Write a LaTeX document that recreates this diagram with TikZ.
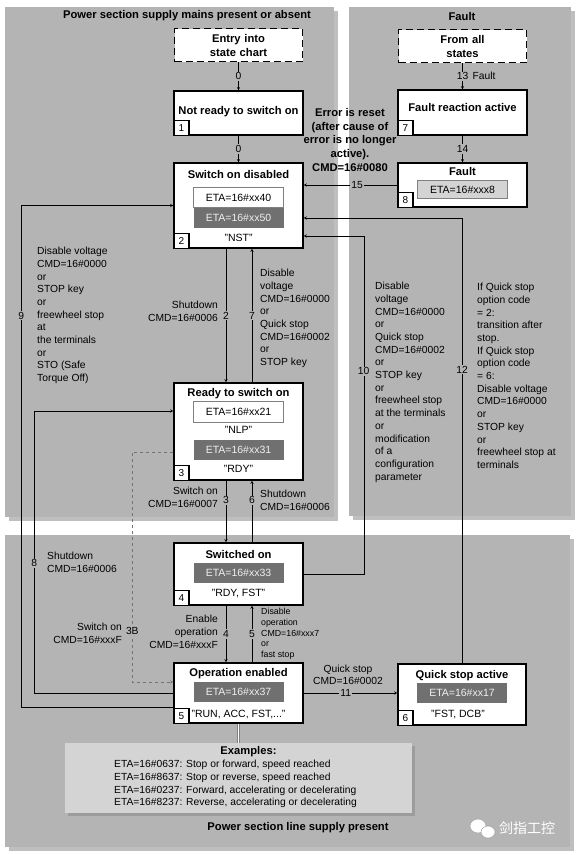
\documentclass[tikz,border=0pt]{standalone}
\usepackage{fontspec}
\setmainfont{Liberation Sans}
\newfontfamily\cjkfont{Noto Sans CJK SC}
\usetikzlibrary{arrows, shadows}

\definecolor{panelgray}{RGB}{180,180,180}
\definecolor{etagray}{RGB}{112,112,112}
\definecolor{boxgray}{RGB}{212,212,212}

\tikzstyle{panel} = [fill=panelgray, drop shadow={shadow xshift=4pt, shadow yshift=-4pt, opacity=0.5}]
\tikzstyle{state} = [rectangle, minimum width=129pt, draw=black, line width=1.4pt, fill=white]
\tikzstyle{entry} = [rectangle, minimum width=128pt, minimum height=33pt, text width=120pt, align=center,
draw=black, line width=1.4pt, dash pattern=on 7pt off 4pt, fill=white, font=\fontsize{11.2}{14}\selectfont\bfseries]
\tikzstyle{title} = [inner sep=0pt, text height=8pt, text depth=0pt, font=\fontsize{11.2}{13.5}\selectfont\bfseries]
\tikzstyle{status} = [inner sep=0pt, text height=7.5pt, text depth=0pt, font=\fontsize{10.5}{12}\selectfont]
\tikzstyle{etaWhite} = [rectangle, anchor=north, minimum width=90pt, minimum height=20.5pt, draw=gray, line width=0.4pt,
fill=white, inner sep=0pt, text height=7.5pt, text depth=0pt, font=\fontsize{10.5}{12}\selectfont]
\tikzstyle{etaDark} = [etaWhite, draw=none, fill=etagray, text=white!88!gray]
\tikzstyle{etaLight} = [etaWhite, fill=boxgray]
\tikzstyle{numbox} = [rectangle, anchor=south west, minimum size=15pt, draw=black, line width=1.2pt, fill=white,
inner sep=0pt, text height=7pt, text depth=0pt, font=\fontsize{10}{12}\selectfont]
\tikzstyle{num} = [fill=panelgray, inner sep=1pt, font=\fontsize{10.3}{12}\selectfont]
\tikzstyle{cond} = [inner sep=0pt, font=\fontsize{10.3}{12.7}\selectfont]
\tikzstyle{condSmall} = [inner sep=0pt, font=\fontsize{8.8}{10.8}\selectfont]
\tikzstyle{heading} = [inner sep=0pt, font=\fontsize{11.2}{13.7}\selectfont\bfseries]
\tikzstyle{exampleBox} = [rectangle, fill=boxgray, minimum width=347pt, minimum height=70pt,
drop shadow={shadow xshift=3pt, shadow yshift=-3pt, opacity=0.45}]

\begin{document}
\begin{tikzpicture}[x=1pt, y=-1pt]
    \useasboundingbox (0,0) rectangle (578,855);
    \fill[white] (0,0) rectangle (578,855);
    % panels
    \path[panel] (5,7) rectangle (334,517);
    \path[panel] (349,7) rectangle (571,516);
    \path[panel] (5,535) rectangle (570,847);
    \node(mainsTitle)[heading] at (187,16) {Power section supply mains present or absent};
    \node(faultTitle)[heading] at (462,16) {Fault};
    \node(lineTitle)[heading] at (298,828) {Power section line supply present};

    % states
    \node(entryChart)[entry] at (238.5,45) {Entry into\\state chart};
    \node(notReady)[state, minimum height=44pt] at (238.5,113) {};
    \node(switchDisabled)[state, minimum height=85pt] at (238.5,205.5) {};
    \node(readySwitch)[state, minimum height=97pt] at (238.5,431.5) {};
    \node(switchedOn)[state, minimum height=62pt] at (238.5,574) {};
    \node(opEnabled)[state, minimum height=60pt] at (238.5,693) {};
    \node(quickStop)[state, minimum width=128pt, minimum height=61pt] at (462,694.5) {};
    \node(fromAll)[entry] at (462.5,46) {From all\\states};
    \node(faultReaction)[state, minimum height=45pt] at (462.5,112.5) {};
    \node(fault)[state, minimum height=44pt] at (462.5,185) {};

    \node(tNotReady)[title] at ([yshift=-20pt]notReady.north) {Not ready to switch on};
    \node(nOne)[numbox] at (notReady.south west) {1};

    \node(tDisabled)[title] at ([yshift=-12pt]switchDisabled.north) {Switch on disabled};
    \node(eta40)[etaWhite, minimum height=20pt] at ([yshift=-25pt]switchDisabled.north) {ETA=16\#xx40};
    \node(eta50)[etaDark, minimum height=20pt] at ([yshift=-45pt]switchDisabled.north) {ETA=16\#xx50};
    \node(sNST)[status] at ([yshift=-75pt]switchDisabled.north) {"NST"};
    \node(nTwo)[numbox] at (switchDisabled.south west) {2};

    \node(tReady)[title] at ([yshift=-10pt]readySwitch.north) {Ready to switch on};
    \node(eta21)[etaWhite] at ([yshift=-19pt]readySwitch.north) {ETA=16\#xx21};
    \node(sNLP)[status] at ([yshift=-47pt]readySwitch.north) {"NLP"};
    \node(eta31)[etaDark] at ([yshift=-57pt]readySwitch.north) {ETA=16\#xx31};
    \node(sRDY)[status] at ([yshift=-86pt]readySwitch.north) {"RDY"};
    \node(nThree)[numbox] at (readySwitch.south west) {3};

    \node(tSwitchedOn)[title] at ([yshift=-12pt]switchedOn.north) {Switched on};
    \node(eta33)[etaDark] at ([yshift=-20pt]switchedOn.north) {ETA=16\#xx33};
    \node(sRdyFst)[status] at ([yshift=-50pt]switchedOn.north) {"RDY, FST"};
    \node(nFour)[numbox] at (switchedOn.south west) {4};

    \node(tOpEnabled)[title] at ([yshift=-10pt]opEnabled.north) {Operation enabled};
    \node(eta37)[etaDark] at ([yshift=-19pt]opEnabled.north) {ETA=16\#xx37};
    \node(sRun)[status] at ([yshift=-51pt]opEnabled.north) {"RUN, ACC, FST,..."};
    \node(nFive)[numbox] at (opEnabled.south west) {5};

    \node(tQuickStop)[title] at ([yshift=-11pt]quickStop.north) {Quick stop active};
    \node(eta17)[etaDark, minimum height=20pt] at ([yshift=-19pt]quickStop.north) {ETA=16\#xx17};
    \node(sFstDcb)[status] at ([yshift=-50pt, xshift=-4pt]quickStop.north) {"FST, DCB"};
    \node(nSix)[numbox] at (quickStop.south west) {6};

    \node(tFaultReaction)[title] at ([yshift=-18pt]faultReaction.north) {Fault reaction active};
    \node(nSeven)[numbox] at (faultReaction.south west) {7};
    \node(tFault)[title] at ([yshift=-9pt]fault.north) {Fault};
    \node(eta8)[etaLight, minimum height=18pt] at ([yshift=-18pt]fault.north) {ETA=16\#xxx8};
    \node(nEight)[numbox] at (fault.south west) {8};

    % transitions
    \draw[->,>=stealth] (entryChart) -- node[num]{0} (notReady);
    \draw[->,>=stealth] (notReady) -- node[num]{0} (switchDisabled);
    \draw[->,>=stealth] ([xshift=-12.5pt]switchDisabled.south) -- node[num]{2} ([xshift=-12.5pt]readySwitch.north);
    \draw[->,>=stealth] ([xshift=13.5pt]readySwitch.north) -- node[num]{7} ([xshift=13.5pt]switchDisabled.south);
    \draw[->,>=stealth] ([xshift=-12.5pt]readySwitch.south) -- node[num, pos=0.32]{3} ([xshift=-12.5pt]switchedOn.north);
    \draw[->,>=stealth] ([xshift=13.5pt]switchedOn.north) -- node[num, pos=0.68]{6} ([xshift=13.5pt]readySwitch.south);
    \draw[->,>=stealth] ([xshift=-12.5pt]switchedOn.south) -- node[num]{4} ([xshift=-12.5pt]opEnabled.north);
    \draw[->,>=stealth] ([xshift=13.5pt]opEnabled.north) -- node[num]{5} ([xshift=13.5pt]switchedOn.south);
    \draw[->,>=stealth] (opEnabled.east) -- node[num, pos=0.45]{11} (opEnabled.east -| quickStop.west);
    \draw[->,>=stealth] (fromAll) -- node[num]{13} node[cond, right=10pt]{Fault} (faultReaction);
    \draw[->,>=stealth] (faultReaction) -- node[num]{14} (fault);
    \draw[->,>=stealth] (fault.west) -- node[num, pos=0.43]{15} (fault.west -| switchDisabled.east);
    \draw[->,>=stealth] (quickStop.north) |- node[num, pos=0.33]{12} ([yshift=-12.5pt]switchDisabled.east);
    \draw[->,>=stealth] (switchedOn.east) -- ++(60,0) |- node[num, pos=0.30]{10} ([yshift=-30.5pt]switchDisabled.east);
    \draw[->,>=stealth] ([yshift=-14pt]opEnabled.west) -- ++(-152,0) |- node[num, pos=0.39]{9} (switchDisabled.west);
    \draw[->,>=stealth] (opEnabled.west) -- ++(-139,0) |- node[num, pos=0.23]{8} ([yshift=20.5pt]readySwitch.west);
    \draw[->,>=stealth, dashed, black!55] ([yshift=-20.5pt]readySwitch.west) -- ++(-41,0)
    |- node[num, text=black, pos=0.39]{3B} ([yshift=11pt]opEnabled.west);

    % transition conditions
    \node(cTwo)[cond, anchor=north east, align=right] at (218,301) {Shutdown\\CMD=16\#0006};
    \node(cSeven)[cond, anchor=north west, align=left] at (260,269) {Disable\\voltage\\CMD=16\#0000\\or\\Quick stop\\CMD=16\#0002\\or\\STOP key};
    \node(cNine)[cond, anchor=north west, align=left] at (37,247) {Disable voltage\\CMD=16\#0000\\or\\STOP key\\or\\freewheel stop\\at\\the terminals\\or\\STO (Safe\\Torque Off)};
    \node(cTen)[cond, anchor=north west, align=left] at (375,282) {Disable\\voltage\\CMD=16\#0000\\or\\Quick stop\\CMD=16\#0002\\or\\STOP key\\or\\freewheel stop\\at the terminals\\or\\modification\\of a\\configuration\\parameter};
    \node(cTwelve)[cond, anchor=north west, align=left] at (477,283) {If Quick stop\\option code\\= 2:\\transition after\\stop.\\If Quick stop\\option code\\= 6:\\Disable voltage\\CMD=16\#0000\\or\\STOP key\\or\\freewheel stop at\\terminals};
    \node(cThree)[cond, anchor=north east, align=right] at (218,487) {Switch on\\CMD=16\#0007};
    \node(cSix)[cond, anchor=north west, align=left] at (260,490) {Shutdown\\CMD=16\#0006};
    \node(cEight)[cond, anchor=north west, align=left] at (47,552) {Shutdown\\CMD=16\#0006};
    \node(cThreeB)[cond, anchor=north east, align=right] at (122,623) {Switch on\\CMD=16\#xxxF};
    \node(cFour)[cond, anchor=north east, align=right] at (218,615) {Enable\\operation\\CMD=16\#xxxF};
    \node(cFive)[condSmall, anchor=north west, align=left] at (261,608) {Disable\\operation\\CMD=16\#xxx7\\or\\fast stop};
    \node(cEleven)[cond, anchor=south, align=center] at (348,685) {Quick stop\\CMD=16\#0002};
    \node(cFifteen)[heading, anchor=north, align=center] at (350,108) {Error is reset\\(after cause of\\error is no longer\\active).\\CMD=16\#0080};

    % examples
    \node(examples)[exampleBox] at (238.5,778) {};
    \draw[double=white, double distance=1.6pt, draw=black!50, line width=0.5pt] (opEnabled.south) -- (examples.north);
    \node(exTitle)[heading] at (248.5,752) {Examples:};
    \node(exLines)[cond, anchor=north west, align=left] at (114,760) {ETA=16\#0637: Stop or forward, speed reached\\ETA=16\#8637: Stop or reverse, speed reached\\ETA=16\#0237: Forward, accelerating or decelerating\\ETA=16\#8237: Reverse, accelerating or decelerating};

    % watermark
    \filldraw[fill=white, draw=black!40] (478,826) ellipse (8pt and 7pt);
    \filldraw[fill=white, draw=black!40] (488,832) ellipse (7pt and 6pt);
    \node(mark)[font=\cjkfont\fontsize{14}{16}\selectfont, text=white] at (527,828) {剑指工控};
\end{tikzpicture}
\end{document}
